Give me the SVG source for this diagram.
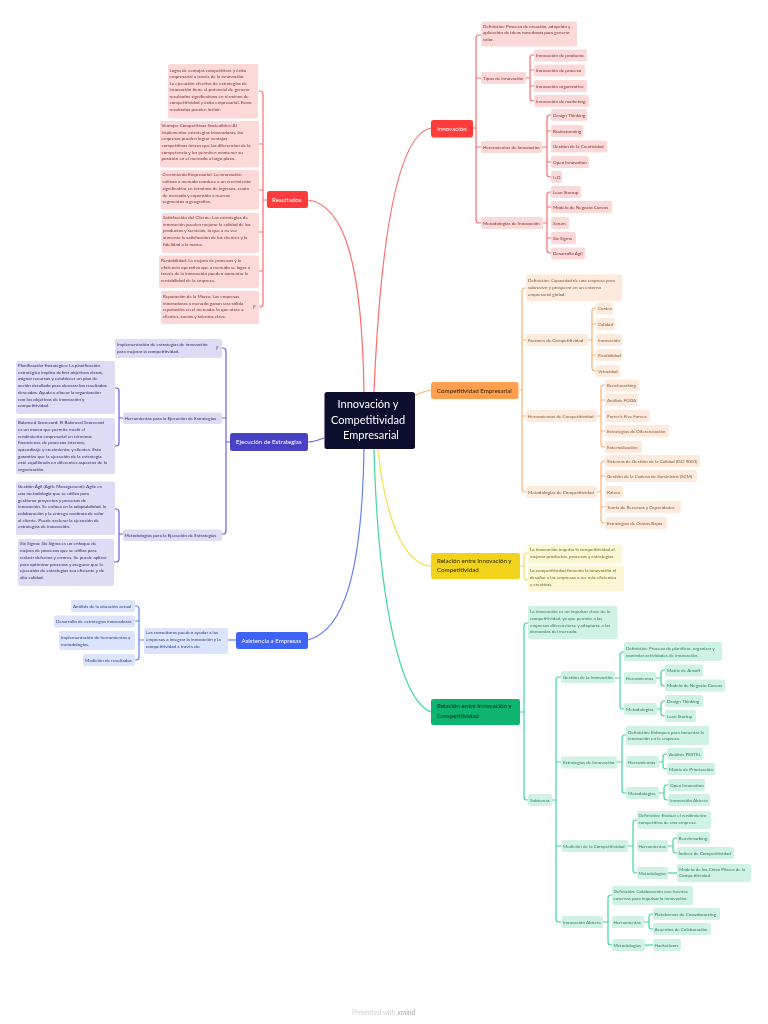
<svg xmlns="http://www.w3.org/2000/svg" width="768" height="1024" viewBox="0 0 768 1024">
<style>
text{font-family:"Lato","Liberation Sans",sans-serif;font-size:4.6px}
.r rect{fill:#fbd9d9}.r text{fill:#7d3030}
.o rect{fill:#fdeadc}.o text{fill:#7a5a3c}
.y rect{fill:#fbf7d4}.y text{fill:#6f6624}
.g rect{fill:#d0f2e4}.g text{fill:#2c7d5e}
.i rect{fill:#dedcf5}.i text{fill:#2d2a6b}
.b rect{fill:#dce3fd}.b text{fill:#2c3c7c}
.t text{font-size:6.2px}
.c text{font-size:11px;fill:#fff;text-anchor:middle}
#connectors path{fill:none;stroke-width:1.2}
.mk{fill:none;stroke:#8a7a8a;stroke-width:.6}
.lr{stroke:#ff6a6a}.lo{stroke:#ffb070}.ly{stroke:#f5dc50}.lg{stroke:#3fd6a0}.li{stroke:#6a63dc}.lb{stroke:#5f80f8}
</style>
<defs><filter id="soft" x="0" y="0" width="100%" height="100%"><feGaussianBlur stdDeviation="0.3"/></filter></defs>
<rect width="768" height="1024" fill="#fff"/>
<g filter="url(#soft)">
<g id="connectors">
<path class="lr" d="M364 392C362 265 345 205 308 200"/>
<path class="lr" d="M374 392C380 250 395 135 431 128"/>
<path class="lo" d="M415 395C420 393 425 391 431 390"/>
<path class="ly" d="M378 449C385 520 405 565 431 566"/>
<path class="lg" d="M374 449C378 600 400 700 431 712"/>
<path class="lb" d="M364 449C362 570 345 630 308 640"/>
<path class="li" d="M324 438C318 440 314 442 308 442"/>
<path class="lr" d="M473 128H476M481 35H479Q476 35 476 38V220Q476 223 479 223H481M476 78H481M476 147H481"/>
<path class="lr" d="M526 78H530M534 55H533Q530 55 530 58V98Q530 101 533 101H534M530 70H534M530 86H534"/>
<path class="lr" d="M542 147H547M551 115H550Q547 115 547 118V174Q547 177 550 177H551M547 131H551M547 162H551"/>
<path class="lr" d="M543 223H547M551 192H550Q547 192 547 195V250Q547 253 550 253H551M547 207H551M547 238H551"/>
<path class="lr" d="M267 200H263M259 91H260Q263 91 263 94V304Q263 307 260 307H259M263 144H259M263 190H259M263 232H259M263 271H259"/>
<path class="lo" d="M519 390H522M526 288H525Q522 288 522 291V489Q522 492 525 492H526M522 340H526M522 416H526"/>
<path class="lo" d="M588 340H592M596 308H595Q592 308 592 311V368Q592 371 595 371H596M592 324H596M592 355H596"/>
<path class="lo" d="M597 416H601M605 385H604Q601 385 601 388V444Q601 447 604 447H605M601 400H605M601 431H605"/>
<path class="lo" d="M597 492H601M605 461H604Q601 461 601 464V520Q601 523 604 523H605M601 476H605M601 507H605"/>
<path class="ly" d="M520 566H524M528 553H527Q524 553 524 556V577Q524 580 527 580H528"/>
<path class="lg" d="M520 712H524M528 623H527Q524 623 524 626V797Q524 800 527 800H528"/>
<path class="lg" d="M552 800H556M561 677H559Q556 677 556 680V919Q556 922 559 922H561M556 762H561M556 846H561"/>
<path class="lg" d="M615 678H620M624 652H623Q620 652 620 655V706Q620 709 623 709H624"/>
<path class="lg" d="M656 678H661M665 670H664Q661 670 661 673V683Q661 686 664 686H665"/>
<path class="lg" d="M657 709H661M665 701H664Q661 701 661 704V713Q661 716 664 716H665"/>
<path class="lg" d="M617 762H622M626 735H625Q622 735 622 738V790Q622 793 625 793H626"/>
<path class="lg" d="M659 762H663M667 754H666Q663 754 663 757V766Q663 769 666 769H667"/>
<path class="lg" d="M659 793H664M668 785H667Q664 785 664 788V797Q664 800 667 800H668"/>
<path class="lg" d="M628 846H633M637 820H636Q633 820 633 823V870Q633 873 636 873H637"/>
<path class="lg" d="M668 846H673M677 838H676Q673 838 673 841V850Q673 853 676 853H677"/>
<path class="lg" d="M668 873H677"/>
<path class="lg" d="M603 922H608M612 895H611Q608 895 608 898V942Q608 945 611 945H612"/>
<path class="lg" d="M644 922H649M653 914H652Q649 914 649 917V926Q649 929 652 929H653"/>
<path class="lg" d="M645 945H653"/>
<path class="li" d="M230 442H226M222 348H223Q226 348 226 351V531Q226 534 223 534H222M226 418H222"/>
<path class="li" d="M123 418H119M115 388H116Q119 388 119 391V443Q119 446 116 446H115"/>
<path class="li" d="M123 534H119M115 509H116Q119 509 119 512V559Q119 562 116 562H114"/>
<path class="lb" d="M236 640H228"/>
<path class="lb" d="M144 640H139M135 606H136Q139 606 139 609V657Q139 660 136 660H135M139 621H135"/>
</g>

<g id="central"><rect x="324.500" y="392" width="90.500" height="57" rx="2.500" fill="#0b0a2e"/><g class="c"><text x="368" y="408">Innovación y</text><text x="368" y="424">Competitividad</text><text x="371" y="439">Empresarial</text></g></g>

<g id="n-innovacion" class="t"><rect x="431" y="120" width="42" height="17.500" rx="2.500" fill="#ff3b3b"/><text x="437" y="130.500" fill="#fff">Innovación</text></g>
<g id="n-resultados" class="t"><rect x="267" y="191" width="41" height="17" rx="2.500" fill="#ff3b3b"/><text x="272" y="201.500" fill="#fff">Resultados</text></g>
<g id="n-competitividad" class="t"><rect x="431" y="382" width="87.500" height="17" rx="2.500" fill="#ff9f4f"/><text x="437" y="392.500" fill="#2a1a00">Competitividad Empresarial</text></g>
<g id="n-relacion1" class="t"><rect x="431" y="553" width="89" height="26" rx="2" fill="#f2d31b"/><text x="437" y="562.500" fill="#2a2500">Relación entre Innovación y</text><text x="437" y="572" fill="#2a2500">Competitividad</text></g>
<g id="n-relacion2" class="t"><rect x="431" y="699" width="89" height="26" rx="2" fill="#0cb570"/><text x="437" y="708" fill="#022">Relación entre Innovación y</text><text x="437" y="717.500" fill="#022">Competitividad</text></g>
<g id="n-ejecucion" class="t"><rect x="230" y="433" width="78" height="18" rx="2.500" fill="#4a42c4"/><text x="236" y="443.500" fill="#fff">Ejecución de Estrategias</text></g>
<g id="n-asistencia" class="t"><rect x="236" y="632" width="72" height="17" rx="2.500" fill="#3f63f5"/><text x="241.500" y="642.500" fill="#fff">Asistencia a Empresas</text></g>

<g class="r">
<g id="r1"><rect x="481" y="21.500" width="96" height="25" rx="2"/><text x="483" y="27.500">Definición: Proceso de creación, adopción y</text><text x="483" y="34">aplicación de ideas novedosas para generar</text><text x="483" y="41">valor.</text></g>
<g id="r2"><rect x="481" y="72" width="45" height="12" rx="2"/><text x="483" y="79.700">Tipos de Innovación</text></g>
<g id="r3"><rect x="534" y="49.500" width="53" height="12" rx="2"/><text x="536" y="57.200">Innovación de producto</text></g>
<g id="r4"><rect x="534" y="64.500" width="51" height="12" rx="2"/><text x="536" y="72.200">Innovación de proceso</text></g>
<g id="r5"><rect x="534" y="80" width="53" height="12" rx="2"/><text x="536" y="87.700">Innovación organizativa</text></g>
<g id="r6"><rect x="534" y="95" width="55" height="12" rx="2"/><text x="536" y="102.700">Innovación de marketing</text></g>
<g id="r7"><rect x="481" y="141" width="61" height="12" rx="2"/><text x="483" y="148.700">Herramientas de Innovación</text></g>
<g id="r8"><rect x="551" y="109" width="36" height="12" rx="2"/><text x="553" y="116.700">Design Thinking</text></g>
<g id="r9"><rect x="551" y="125" width="32" height="12" rx="2"/><text x="553" y="132.700">Brainstorming</text></g>
<g id="r10"><rect x="551" y="140.500" width="56" height="12" rx="2"/><text x="553" y="148.200">Gestión de la Creatividad</text></g>
<g id="r11"><rect x="551" y="156" width="38" height="12" rx="2"/><text x="553" y="163.700">Open Innovation</text></g>
<g id="r12"><rect x="551" y="171" width="11" height="12" rx="2"/><text x="553" y="178.700">I+D</text></g>
<g id="r13"><rect x="481" y="217" width="62" height="12" rx="2"/><text x="483" y="224.700">Metodologías de Innovación</text></g>
<g id="r14"><rect x="551" y="186" width="30" height="12" rx="2"/><text x="553" y="193.700">Lean Startup</text></g>
<g id="r15"><rect x="551" y="201" width="61" height="12" rx="2"/><text x="553" y="208.700">Modelo de Negocio Canvas</text></g>
<g id="r16"><rect x="551" y="217" width="18" height="12" rx="2"/><text x="553" y="224.700">Scrum</text></g>
<g id="r17"><rect x="551" y="232" width="25" height="12" rx="2"/><text x="553" y="239.700">Six Sigma</text></g>
<g id="r18"><rect x="551" y="247.500" width="34" height="12" rx="2"/><text x="553" y="255.200">Desarrollo Ágil</text></g>
<g id="r19"><rect x="168" y="64" width="90" height="54.500" rx="2"/><text x="169.500" y="71.500">Logro de ventajas competitivas y éxito</text><text x="169.500" y="78.200">empresarial a través de la innovación.</text><text x="169.500" y="84.800">La ejecución efectiva de estrategias de</text><text x="169.500" y="91.300">innovación tiene el potencial de generar</text><text x="169.500" y="97.800">resultados significativos en términos de</text><text x="169.500" y="104.400">competitividad y éxito empresarial. Estos</text><text x="169.500" y="111">resultados pueden incluir:</text></g>
<g id="r20"><rect x="160" y="121" width="99" height="46.500" rx="2"/><text x="161.500" y="127">Ventajas Competitivas Sostenibles: Al</text><text x="161.500" y="133.700">implementar estrategias innovadoras, las</text><text x="161.500" y="140.400">empresas pueden lograr ventajas</text><text x="161.500" y="147">competitivas únicas que las diferencian de la</text><text x="161.500" y="153.700">competencia y les permiten mantener su</text><text x="161.500" y="160.400">posición en el mercado a largo plazo.</text></g>
<g id="r21"><rect x="160.500" y="170" width="98.500" height="39.500" rx="2"/><text x="162.500" y="176.400">Crecimiento Empresarial: La innovación</text><text x="162.500" y="183">exitosa a menudo conduce a un crecimiento</text><text x="162.500" y="190">significativo en términos de ingresos, cuota</text><text x="162.500" y="196.700">de mercado y expansión a nuevos</text><text x="162.500" y="203.400">segmentos o geografías.</text></g>
<g id="r22"><rect x="161.500" y="213" width="97.500" height="40" rx="2"/><text x="163" y="219.400">Satisfacción del Cliente: Las estrategias de</text><text x="163" y="226">innovación pueden mejorar la calidad de los</text><text x="163" y="232.400">productos y servicios, lo que a su vez</text><text x="163" y="239.400">aumenta la satisfacción de los clientes y la</text><text x="163" y="246">fidelidad a la marca.</text></g>
<g id="r23"><rect x="159" y="255.500" width="100" height="32.500" rx="2"/><text x="161" y="262">Rentabilidad: La mejora de procesos y la</text><text x="161" y="268.700">eficiencia operativa que a menudo se logra a</text><text x="161" y="275.400">través de la innovación pueden aumentar la</text><text x="161" y="282">rentabilidad de la empresa.</text></g>
<g id="r24"><rect x="161" y="291" width="98" height="33" rx="2"/><text x="163" y="297.700">Reputación de la Marca: Las empresas</text><text x="163" y="304.700">innovadoras a menudo ganan una sólida</text><text x="163" y="311.400">reputación en el mercado, lo que atrae a</text><text x="163" y="318.400">clientes, socios y talentos clave.</text><path class="mk" d="M253.500 309v-3.500h1.500v1.600h-1.500"/></g>
</g>

<g class="o">
<g id="o1"><rect x="526" y="274.500" width="96" height="26.500" rx="2"/><text x="528" y="281.800">Definición: Capacidad de una empresa para</text><text x="528" y="288.500">sobrevivir y prosperar en un entorno</text><text x="528" y="295.500">empresarial global.</text></g>
<g id="o2"><rect x="526" y="334" width="62" height="12" rx="2"/><text x="528" y="341.700">Factores de Competitividad</text></g>
<g id="o3"><rect x="596" y="302.500" width="17" height="12" rx="2"/><text x="598" y="310">Costes</text></g>
<g id="o4"><rect x="596" y="318" width="19" height="12" rx="2"/><text x="598" y="325.700">Calidad</text></g>
<g id="o5"><rect x="596" y="334" width="26" height="12" rx="2"/><text x="598" y="341.700">Innovación</text></g>
<g id="o6"><rect x="596" y="349" width="26" height="12" rx="2"/><text x="598" y="356.700">Flexibilidad</text></g>
<g id="o7"><rect x="596" y="365" width="24" height="12" rx="2"/><text x="598" y="372.700">Velocidad</text></g>
<g id="o8"><rect x="526" y="410" width="71" height="12" rx="2"/><text x="528" y="417.700">Herramientas de Competitividad</text></g>
<g id="o9"><rect x="605" y="379.500" width="34" height="12" rx="2"/><text x="607" y="387.200">Benchmarking</text></g>
<g id="o10"><rect x="605" y="394" width="33" height="12" rx="2"/><text x="607" y="401.700">Análisis FODA</text></g>
<g id="o11"><rect x="605" y="410" width="45" height="12" rx="2"/><text x="607" y="417.700">Porter's Five Forces</text></g>
<g id="o12"><rect x="605" y="425" width="64" height="12" rx="2"/><text x="607" y="432.700">Estrategias de Diferenciación</text></g>
<g id="o13"><rect x="605" y="441" width="37" height="12" rx="2"/><text x="607" y="448.700">Externalización</text></g>
<g id="o14"><rect x="526" y="486" width="71" height="12" rx="2"/><text x="528" y="493.700">Metodologías de Competitividad</text></g>
<g id="o15"><rect x="605" y="455" width="95" height="12" rx="2"/><text x="607" y="462.700">Sistemas de Gestión de la Calidad (ISO 9001)</text></g>
<g id="o16"><rect x="605" y="470" width="92" height="12" rx="2"/><text x="607" y="477.700">Gestión de la Cadena de Suministro (SCM)</text></g>
<g id="o17"><rect x="605" y="486" width="18" height="12" rx="2"/><text x="607" y="493.700">Kaizen</text></g>
<g id="o18"><rect x="605" y="501" width="76" height="12" rx="2"/><text x="607" y="508.700">Teoría de Recursos y Capacidades</text></g>
<g id="o19"><rect x="605" y="517" width="62" height="12" rx="2"/><text x="607" y="524.700">Estrategias de Costos Bajos</text></g>
</g>

<g class="y">
<g id="y1"><rect x="528" y="544.500" width="94" height="19" rx="2"/><text x="530" y="550.800">La innovación impulsa la competitividad al</text><text x="530" y="557.500">mejorar productos, procesos y estrategias.</text></g>
<g id="y2"><rect x="528" y="566" width="96" height="25.500" rx="2"/><text x="530" y="571.900">La competitividad fomenta la innovación al</text><text x="530" y="578.900">desafiar a las empresas a ser más eficientes</text><text x="530" y="585.900">y creativas.</text></g>
</g>

<g class="g">
<g id="g1"><rect x="528" y="606" width="89.500" height="33" rx="2"/><text x="530" y="613">La innovación es un impulsor clave de la</text><text x="530" y="619.800">competitividad, ya que permite a las</text><text x="530" y="626.500">empresas diferenciarse y adaptarse a las</text><text x="530" y="633.300">demandas del mercado.</text></g>
<g id="g2"><rect x="528" y="794" width="24" height="12" rx="2"/><text x="530" y="801.500">Subtemas</text></g>
<g id="g3"><rect x="561" y="671" width="54" height="12" rx="2"/><text x="563" y="678.700">Gestión de la Innovación</text></g>
<g id="g4"><rect x="624" y="642" width="98" height="19" rx="2"/><text x="626" y="649.700">Definición: Proceso de planificar, organizar y</text><text x="626" y="656.500">controlar actividades de innovación.</text></g>
<g id="g5"><rect x="624" y="672" width="32" height="12" rx="2"/><text x="626" y="679.700">Herramientas</text></g>
<g id="g6"><rect x="665" y="664.500" width="38" height="12" rx="2"/><text x="667" y="672.200">Matriz de Ansoff</text></g>
<g id="g7"><rect x="665" y="679.500" width="60" height="12" rx="2"/><text x="667" y="687.200">Modelo de Negocio Canvas</text></g>
<g id="g8"><rect x="624" y="703" width="33" height="12" rx="2"/><text x="626" y="710.700">Metodologías</text></g>
<g id="g9"><rect x="665" y="695" width="38" height="12" rx="2"/><text x="667" y="702.700">Design Thinking</text></g>
<g id="g10"><rect x="665" y="710" width="31" height="12" rx="2"/><text x="667" y="717.700">Lean Startup</text></g>
<g id="g11"><rect x="561" y="756.500" width="56" height="12" rx="2"/><text x="563" y="764.200">Estrategias de Innovación</text></g>
<g id="g12"><rect x="626" y="726" width="83" height="19" rx="2"/><text x="628" y="733.700">Definición: Enfoques para fomentar la</text><text x="628" y="740.200">innovación en la empresa.</text></g>
<g id="g13"><rect x="626" y="756" width="33" height="12" rx="2"/><text x="628" y="763.700">Herramientas</text></g>
<g id="g14"><rect x="667" y="748" width="36" height="12" rx="2"/><text x="669" y="755.700">Análisis PESTEL</text></g>
<g id="g15"><rect x="667" y="763" width="48" height="12" rx="2"/><text x="669" y="770.700">Matriz de Priorización</text></g>
<g id="g16"><rect x="626" y="787" width="33" height="12" rx="2"/><text x="628" y="794.700">Metodologías</text></g>
<g id="g17"><rect x="668" y="779" width="37" height="12" rx="2"/><text x="670" y="786.700">Open Innovation</text></g>
<g id="g18"><rect x="668" y="794" width="42" height="12" rx="2"/><text x="670" y="801.700">Innovación Abierta</text></g>
<g id="g19"><rect x="561.500" y="840" width="66.500" height="12" rx="2"/><text x="563" y="847.700">Medición de la Competitividad</text></g>
<g id="g20"><rect x="637" y="811" width="74" height="18" rx="2"/><text x="638.500" y="816.800">Definición: Evaluar el rendimiento</text><text x="638.500" y="823.700">competitivo de una empresa.</text></g>
<g id="g21"><rect x="637" y="840" width="31" height="12" rx="2"/><text x="638.500" y="847.700">Herramientas</text></g>
<g id="g22"><rect x="677" y="832" width="33" height="12" rx="2"/><text x="678.500" y="839.700">Benchmarking</text></g>
<g id="g23"><rect x="677" y="847" width="57" height="12" rx="2"/><text x="678.500" y="854.700">Índices de Competitividad</text></g>
<g id="g24"><rect x="637" y="867" width="31" height="12" rx="2"/><text x="638.500" y="874.700">Metodologías</text></g>
<g id="g25"><rect x="677" y="864" width="74" height="18" rx="2"/><text x="679" y="870.600">Modelo de los Cinco Pilares de la</text><text x="679" y="877.300">Competitividad</text></g>
<g id="g26"><rect x="561.500" y="916" width="41.500" height="12" rx="2"/><text x="563" y="923.700">Innovación Abierta</text></g>
<g id="g27"><rect x="612" y="886" width="81" height="19" rx="2"/><text x="613.500" y="892.800">Definición: Colaboración con fuentes</text><text x="613.500" y="899.500">externas para impulsar la innovación.</text></g>
<g id="g28"><rect x="612" y="916" width="32" height="12" rx="2"/><text x="613.500" y="923.700">Herramientas</text></g>
<g id="g29"><rect x="653" y="908" width="67" height="12" rx="2"/><text x="654.500" y="915.700">Plataformas de Crowdsourcing</text></g>
<g id="g30"><rect x="653" y="923" width="58" height="12" rx="2"/><text x="654.500" y="930.700">Acuerdos de Colaboración</text></g>
<g id="g31"><rect x="612" y="939" width="33" height="12" rx="2"/><text x="613.500" y="946.700">Metodologías</text></g>
<g id="g32"><rect x="653" y="939" width="28" height="12" rx="2"/><text x="654.500" y="946.700">Hackathons</text></g>
</g>

<g class="i">
<g id="i1"><rect x="115" y="339" width="107" height="19" rx="2"/><text x="117" y="345.600">Implementación de estrategias de innovación</text><text x="117" y="352.600">para mejorar la competitividad.</text><path class="mk" d="M216.500 350v-3.500h1.500v1.600h-1.500"/></g>
<g id="i2"><rect x="123" y="412.500" width="99" height="11.500" rx="2"/><text x="124.500" y="420">Herramientas para la Ejecución de Estrategias</text></g>
<g id="i3"><rect x="16" y="361" width="99" height="53" rx="2"/><text x="18" y="367">Planificación Estratégica: La planificación</text><text x="18" y="373.700">estratégica implica definir objetivos claros,</text><text x="18" y="380.400">asignar recursos y establecer un plan de</text><text x="18" y="387">acción detallado para alcanzar los resultados</text><text x="18" y="393.700">deseados. Ayuda a alinear la organización</text><text x="18" y="400.700">con los objetivos de innovación y</text><text x="18" y="407.400">competitividad.</text></g>
<g id="i4"><rect x="16" y="418" width="99" height="56" rx="2"/><text x="18" y="424">Balanced Scorecard: El Balanced Scorecard</text><text x="18" y="431">es un marco que permite medir el</text><text x="18" y="437.700">rendimiento empresarial en términos</text><text x="18" y="444.400">financieros, de procesos internos,</text><text x="18" y="451">aprendizaje y crecimiento, y clientes. Esto</text><text x="18" y="457.700">garantiza que la ejecución de la estrategia</text><text x="18" y="464.400">esté equilibrada en diferentes aspectos de la</text><text x="18" y="471">organización.</text></g>
<g id="i5"><rect x="123" y="529.500" width="99" height="11.500" rx="2"/><text x="124.500" y="536.800">Metodologías para la Ejecución de Estrategias</text></g>
<g id="i6"><rect x="16" y="481.500" width="99" height="53.500" rx="2"/><text x="18" y="488.400">Gestión Ágil (Agile Management): Agile es</text><text x="18" y="495">una metodología que se utiliza para</text><text x="18" y="501.700">gestionar proyectos y procesos de</text><text x="18" y="508.400">innovación. Se enfoca en la adaptabilidad, la</text><text x="18" y="515">colaboración y la entrega continua de valor</text><text x="18" y="521.700">al cliente. Puede acelerar la ejecución de</text><text x="18" y="528.400">estrategias de innovación.</text></g>
<g id="i7"><rect x="18" y="539" width="96" height="47" rx="2"/><text x="20" y="545">Six Sigma: Six Sigma es un enfoque de</text><text x="20" y="552.400">mejora de procesos que se utiliza para</text><text x="20" y="558.700">reducir defectos y errores. Se puede aplicar</text><text x="20" y="565.700">para optimizar procesos y asegurar que la</text><text x="20" y="572.400">ejecución de estrategias sea eficiente y de</text><text x="20" y="579">alta calidad.</text></g>
</g>

<g class="b">
<g id="b1"><rect x="144" y="628" width="84" height="26" rx="2"/><text x="146" y="634.400">Las consultoras pueden ayudar a las</text><text x="146" y="641">empresas a integrar la innovación y la</text><text x="146" y="647.700">competitividad a través de:</text></g>
<g id="b2"><rect x="71" y="600" width="64" height="12" rx="2"/><text x="73" y="607.700">Análisis de la situación actual</text></g>
<g id="b3"><rect x="54" y="615.500" width="81" height="12" rx="2"/><text x="56" y="623">Desarrollo de estrategias innovadoras</text></g>
<g id="b4"><rect x="59" y="631" width="76" height="19" rx="2"/><text x="61" y="639">Implementación de herramientas y</text><text x="61" y="645.700">metodologías.</text></g>
<g id="b5"><rect x="83" y="654" width="52" height="12" rx="2"/><text x="85" y="661.700">Medición de resultados</text></g>
</g>

<text id="footer" x="352" y="1014.500" style="font-size:6.600px;fill:#cfcfcf">Presented with <tspan font-weight="700" fill="#bbb">xmind</tspan></text>
</g>
</svg>
